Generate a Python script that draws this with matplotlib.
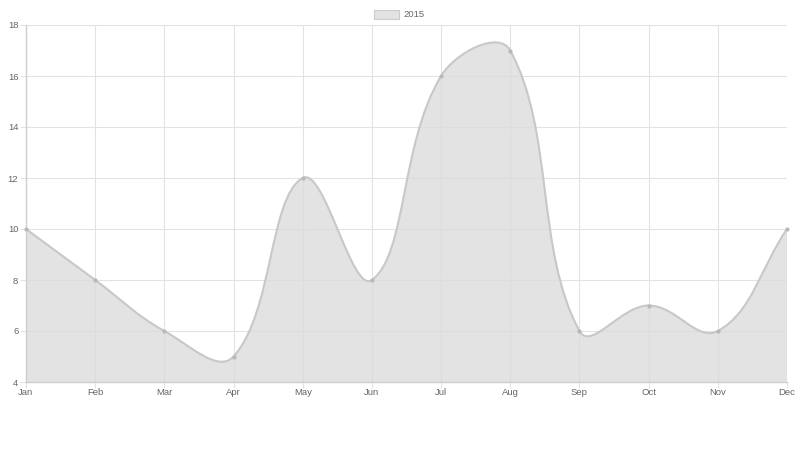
import numpy as np
import matplotlib
matplotlib.use("Agg")
import matplotlib.pyplot as plt
from matplotlib.path import Path
from matplotlib.patches import PathPatch, Rectangle

months = ["Jan", "Feb", "Mar", "Apr", "May", "Jun", "Jul", "Aug", "Sep", "Oct", "Nov", "Dec"]
values_2015 = [10, 8, 6, 5, 12, 8, 16, 17, 6, 7, 6, 10]
series_label = "2015"
y_ticks = [4, 6, 8, 10, 12, 14, 16, 18]

plt.rcParams['font.family'] = ['Liberation Sans', 'DejaVu Sans']
W, H = 800, 450
fig = plt.figure(figsize=(W / 100, H / 100), dpi=100)
L, R, T, B = 26, 787, 25, 382
ax = fig.add_axes([L / W, 1 - B / H, (R - L) / W, (B - T) / H])
x = np.arange(len(months))
ax.set_xlim(0, len(months) - 1)
ax.set_ylim(min(y_ticks), max(y_ticks))

grid_c = "#e2e2e2"
ax.set_xticks(x)
ax.set_xticklabels(months)
ax.set_yticks(y_ticks)
ax.grid(True, color=grid_c, linewidth=0.75)
ax.set_axisbelow(True)
ax.tick_params(length=4, width=0.75, color=grid_c, labelsize=6.8, labelcolor="#666666")
ax.tick_params(axis="x", pad=0.5)
ax.tick_params(axis="y", pad=1.5)
for s in ["top", "right"]:
    ax.spines[s].set_visible(False)
for s in ["left", "bottom"]:
    ax.spines[s].set_color("#cfcfcf")
    ax.spines[s].set_linewidth(1)

# Chart.js style bezier (tension 0.4) in pixel space
fig.canvas.draw()
pts = ax.transData.transform(np.column_stack([x, values_2015]))
t = 0.4
n = len(pts)
cprev = np.zeros_like(pts)
cnext = np.zeros_like(pts)
for i in range(n):
    prev = pts[i - 1] if i > 0 else pts[i]
    cur = pts[i]
    nxt = pts[i + 1] if i < n - 1 else pts[i]
    d01 = np.hypot(*(cur - prev))
    d12 = np.hypot(*(nxt - cur))
    s = d01 + d12
    s01 = d01 / s if s else 0
    s12 = d12 / s if s else 0
    cprev[i] = cur - t * s01 * (nxt - prev)
    cnext[i] = cur + t * s12 * (nxt - prev)
inv = ax.transData.inverted()
verts = [pts[0]]
codes = [Path.MOVETO]
for i in range(n - 1):
    verts += [cnext[i], cprev[i + 1], pts[i + 1]]
    codes += [Path.CURVE4] * 3
verts = inv.transform(np.array(verts))
line_path = Path(verts, codes)
ymin = min(y_ticks)
fill_verts = np.vstack([verts, [[x[-1], ymin], [x[0], ymin], verts[0]]])
fill_codes = codes + [Path.LINETO, Path.LINETO, Path.CLOSEPOLY]
ax.add_patch(PathPatch(Path(fill_verts, fill_codes), facecolor=(220/255, 220/255, 220/255, 0.8),
                       edgecolor="none", zorder=2))
ax.add_patch(PathPatch(line_path, facecolor="none", edgecolor="#c8c8c8", linewidth=1.5, zorder=3))
ax.scatter(x, values_2015, s=9, color="#b8b8b8", zorder=4, linewidths=0, clip_on=False)

# Legend
fig.patches.append(Rectangle((374 / W, 1 - 18.5 / H), 25 / W, 8 / H, transform=fig.transFigure,
                             facecolor=(220/255, 220/255, 220/255, 0.8), edgecolor="#cccccc", linewidth=0.8))
fig.text(403 / W, 1 - 14.5 / H, series_label, fontsize=6.8, color="#666666", va="center", ha="left")

fig.savefig("out.png", dpi=100)
